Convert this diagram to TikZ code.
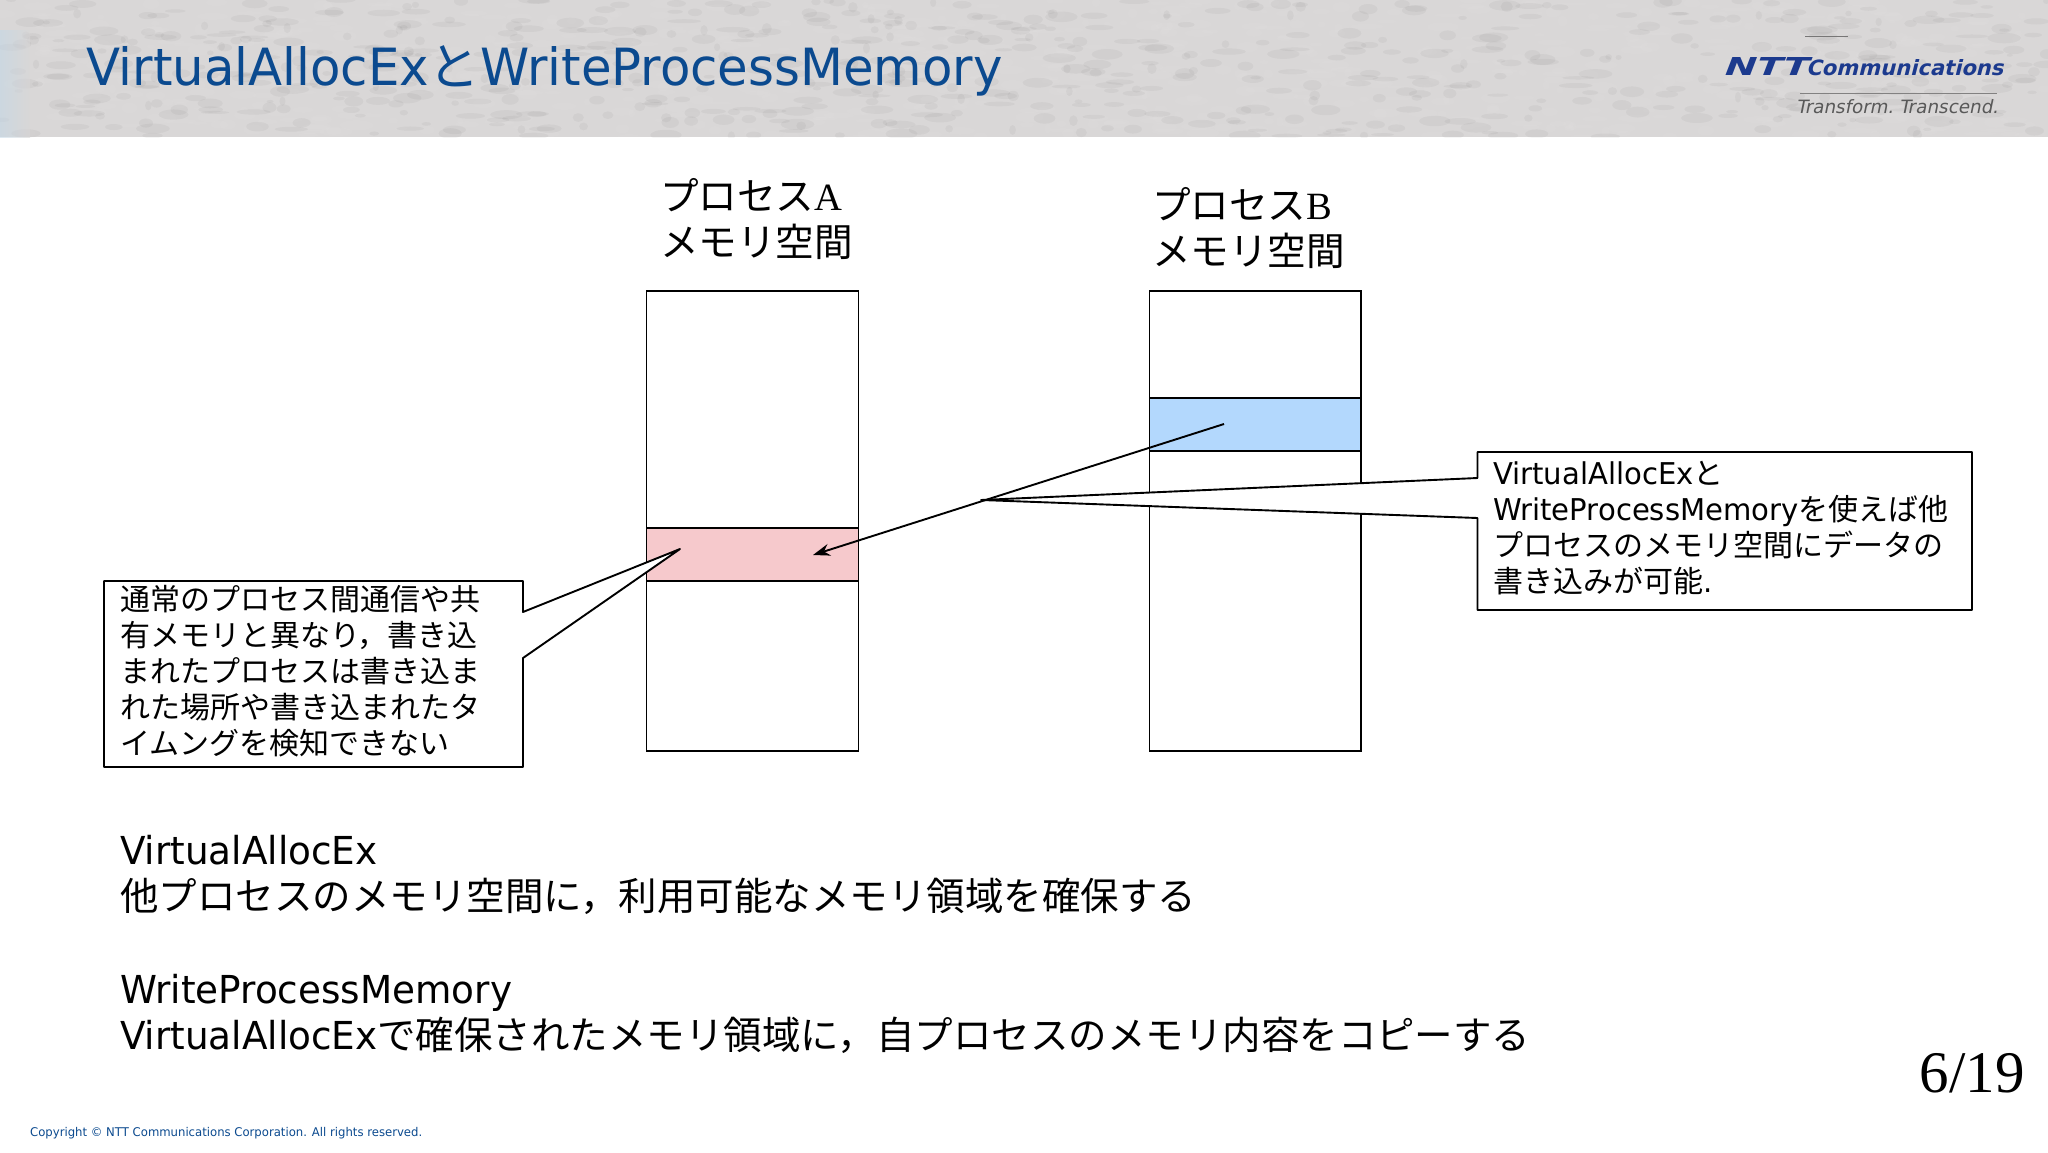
\documentclass[tikz,border=0pt]{standalone}
\usepackage{fontspec}
\setmainfont[FakeStretch=.97]{DejaVu Sans}
\newfontfamily\jp{Noto Sans CJK JP}
\newfontfamily\tms{Liberation Serif}
\newfontfamily\logoB[FakeSlant=.25]{DejaVu Sans Bold}
\newfontfamily\logoN[FakeSlant=.2]{DejaVu Sans}
\newcommand{\J}[1]{{\jp #1}}
\definecolor{titleblue}{HTML}{0B4A8F}
\definecolor{logoblue}{HTML}{1C3A8E}
\definecolor{paper}{HTML}{D9D7D7}
\definecolor{pinkband}{HTML}{F6C9CC}
\definecolor{blueband}{HTML}{B3D8FD}
\definecolor{stripblue}{HTML}{C2D8E8}
\tikzset{
  x=1pt,y=-1pt,
  ln/.style={draw=black,line width=1.9pt},
  memory/.style={ln,anchor=north west,inner sep=0pt,outer sep=0pt,fill=white},
  band/.style={ln,anchor=north west,inner sep=0pt,outer sep=0pt},
  txt/.style={anchor=north west,inner sep=0pt,outer sep=0pt,align=left},
  calloutshape/.style={ln,fill=white,line join=round},
  linearrow/.style={draw=black,line width=1.9pt,-{Stealth[length=17pt,width=12pt]}},
}
\usetikzlibrary{arrows.meta}
\begin{document}
\begin{tikzpicture}
\useasboundingbox (0,0) rectangle (2048,1152);
\fill[white] (0,0) rectangle (2048,1152);
% header
\begin{scope}
\clip (0,0) rectangle (2048,137);
\fill[paper] (0,0) rectangle (2048,137);
\pgfmathsetseed{11}
\foreach \i in {1,...,1400}{
  \pgfmathsetmacro{\px}{rnd*2048}
  \pgfmathsetmacro{\py}{rnd*137}
  \pgfmathsetmacro{\ra}{3+rnd*14}
  \pgfmathsetmacro{\rb}{1.5+rnd*4}
  \pgfmathsetmacro{\tone}{rnd>0.5?100:0}
  \fill[black!\tone!white,opacity=.035] (\px,\py) ellipse [x radius=\ra pt,y radius=\rb pt];
}
\shade[left color=stripblue,right color=paper,opacity=.55] (0,30) rectangle (30,137);
\draw[black!45!paper,line width=1pt] (1805,36) -- (1848,36);
\end{scope}
\node[txt,anchor=base west,font=\fontsize{51.3}{60}\selectfont,text=titleblue] (title) at (86,85) {VirtualAllocEx\J{と}WriteProcessMemory};
\node[anchor=base west,inner sep=0pt,text=logoblue] (ntt) at (1722,75) {\resizebox{84pt}{18pt}{\logoB NTT}};
\node[anchor=base west,inner sep=0pt,text=logoblue] (comm) at (1806,75) {\resizebox{197pt}{!}{\logoB Communications}};
\node[anchor=base west,inner sep=0pt,text=black!65] (tag) at (1796,113) {\resizebox{202pt}{!}{\logoN Transform.\ Transcend.}};
\draw[black!40!paper,line width=1pt] (1800,93) -- (1997,93);

% memory columns
\node[memory,minimum width=212pt,minimum height=460pt] (memA) at (646.5,291) {};
\node[memory,minimum width=211.5pt,minimum height=460pt] (memB) at (1149.5,291) {};
\node[band,fill=pinkband,minimum width=212pt,minimum height=53pt] (pink) at (646.5,528) {};
\node[band,fill=blueband,minimum width=211.5pt,minimum height=53pt] (blue) at (1149.5,398) {};

% headings
\node[txt,font=\fontsize{38.6}{46}\selectfont] (headA) at (660,178) {\J{プロセス}{\tms A}\\\J{メモリ空間}};
\node[txt,font=\fontsize{38.6}{46}\selectfont] (headB) at (1152,187) {\J{プロセス}{\tms B}\\\J{メモリ空間}};

% arrow
\coordinate (arrowStart) at (1224,424);
\coordinate (arrowEnd) at (813,555);
\draw[linearrow] (arrowStart) -- (arrowEnd);

% left callout
\coordinate (lnw) at (104,581);
\coordinate (lne) at (523,581);
\coordinate (lb1) at (523,612);
\coordinate (ltip) at (680,549);
\coordinate (lb2) at (523,658);
\coordinate (lse) at (523,767);
\coordinate (lsw) at (104,767);
\draw[calloutshape] (lnw) -- (lne) -- (lb1) -- (ltip) -- (lb2) -- (lse) -- (lsw) -- cycle;
\node[txt,font=\fontsize{30}{36}\selectfont\jp] (leftText) at (120,585) {通常のプロセス間通信や共\\有メモリと異なり，書き込\\まれたプロセスは書き込ま\\れた場所や書き込まれたタ\\イムングを検知できない};

% right callout
\coordinate (rnw) at (1477.5,452);
\coordinate (rne) at (1972,452);
\coordinate (rse) at (1972,610);
\coordinate (rsw) at (1477.5,610);
\coordinate (rb2) at (1477.5,518);
\coordinate (rtip) at (981,500);
\coordinate (rb1) at (1477.5,478);
\draw[calloutshape] (rnw) -- (rne) -- (rse) -- (rsw) -- (rb2) -- (rtip) -- (rb1) -- cycle;
\node[txt,font=\fontsize{30}{36}\selectfont] (rightText) at (1493,461) {VirtualAllocEx\J{と}\\WriteProcessMemory\J{を使えば他}\\\J{プロセスのメモリ空間にデータの}\\\J{書き込みが可能}.};

% body
\node[txt,font=\fontsize{38.5}{46}\selectfont] (body1) at (120,835) {VirtualAllocEx\\\J{他プロセスのメモリ空間に，利用可能なメモリ領域を確保する}};
\node[txt,font=\fontsize{38.5}{46}\selectfont] (body2) at (120,974) {WriteProcessMemory\\VirtualAllocEx\J{で確保されたメモリ領域に，自プロセスのメモリ内容をコピーする}};

\node[anchor=base east,inner sep=0pt,font=\fontsize{59}{60}\selectfont\tms] (page) at (2025,1092) {6/19};
\node[anchor=base west,inner sep=0pt,font=\fontsize{12.5}{14}\selectfont,text=titleblue] (copy) at (30,1136) {\resizebox{392pt}{!}{Copyright © NTT Communications Corporation. All rights reserved.}};
\end{tikzpicture}
\end{document}
